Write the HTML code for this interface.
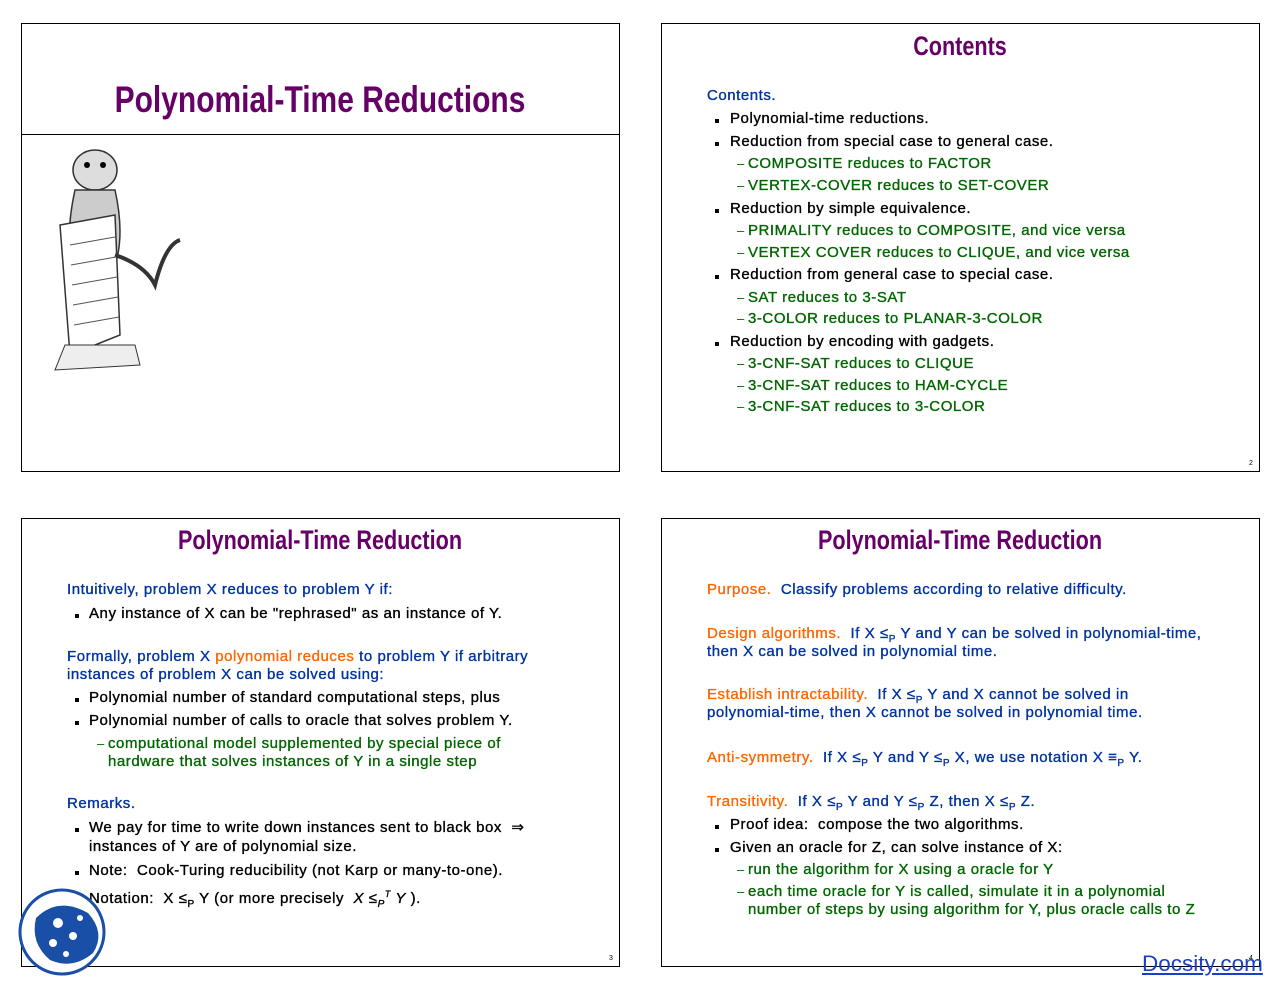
<!DOCTYPE html>
<html><head><meta charset="utf-8"><style>
body{margin:0;width:1280px;height:989px;background:#fff;position:relative;overflow:hidden;font-family:"Liberation Sans",Arial,sans-serif;}
.box{position:absolute;border:1px solid #000;box-sizing:border-box;}
.t{position:absolute;white-space:nowrap;font-size:15px;-webkit-text-stroke:0.35px currentColor;line-height:18px;letter-spacing:0.55px;}
.b{color:#0033a0}.k{color:#000}.g{color:#006600}.o{color:#ff6600}
.ttl{position:absolute;color:#660066;font-weight:bold;white-space:nowrap;transform-origin:center;text-align:center;}
.bul{position:absolute;width:4px;height:4px;background:#000;}
.dash{position:absolute;font-size:13px;color:#006600;}
sub{font-size:10px;}
.pn{position:absolute;font-size:7px;}
</style></head><body>
<div class="box" style="left:21px;top:23px;width:599px;height:449px"></div>
<div style="position:absolute;left:21px;top:134px;width:599px;height:1px;background:#000"></div>
<div class="box" style="left:661px;top:23px;width:599px;height:449px"></div>
<div class="box" style="left:21px;top:518px;width:599px;height:449px"></div>
<div class="box" style="left:661px;top:518px;width:599px;height:449px"></div>

<!-- slide 1 -->
<div class="ttl" style="left:20px;width:600px;top:79px;font-size:37px;transform:scaleX(0.81)">Polynomial-Time Reductions</div>
<svg style="position:absolute;left:45px;top:145px" width="140" height="235">
<ellipse cx="50" cy="25" rx="22" ry="20" fill="#ddd" stroke="#333" stroke-width="1.5"/>
<path d="M30 45 Q20 90 28 120 L70 120 Q80 90 70 45 Z" fill="#ccc" stroke="#333" stroke-width="1.5"/>
<path d="M15 80 L70 70 L75 190 L25 210 Z" fill="#fff" stroke="#333" stroke-width="1.5"/>
<path d="M20 200 L90 200 L95 220 L10 225 Z" fill="#eee" stroke="#333"/>
<path d="M70 110 Q100 120 110 140 Q120 100 135 95" fill="none" stroke="#333" stroke-width="4"/>
<g stroke="#555"><line x1="25" y1="100" x2="70" y2="92"/><line x1="26" y1="120" x2="71" y2="112"/><line x1="27" y1="140" x2="72" y2="132"/><line x1="28" y1="160" x2="73" y2="152"/><line x1="29" y1="180" x2="74" y2="172"/></g>
<circle cx="42" cy="20" r="3"/><circle cx="58" cy="20" r="3"/>
</svg>

<!-- slide 2 -->
<div class="ttl" style="left:660px;width:600px;top:31px;font-size:27px;transform:scaleX(0.8)">Contents</div>
<div class="t b" style="left:707px;top:87px">Contents.</div>
<div class="bul" style="left:715px;top:119px"></div><div class="t k" style="left:730px;top:110px">Polynomial-time reductions.</div>
<div class="bul" style="left:715px;top:142px"></div><div class="t k" style="left:730px;top:133px">Reduction from special case to general case.</div>
<div class="dash" style="left:737px;top:156px">–</div><div class="t g" style="left:748px;top:155px">COMPOSITE reduces to FACTOR</div>
<div class="dash" style="left:737px;top:178px">–</div><div class="t g" style="left:748px;top:177px">VERTEX-COVER reduces to SET-COVER</div>
<div class="bul" style="left:715px;top:209px"></div><div class="t k" style="left:730px;top:200px">Reduction by simple equivalence.</div>
<div class="dash" style="left:737px;top:223px">–</div><div class="t g" style="left:748px;top:222px">PRIMALITY reduces to COMPOSITE, and vice versa</div>
<div class="dash" style="left:737px;top:245px">–</div><div class="t g" style="left:748px;top:244px">VERTEX COVER reduces to CLIQUE, and vice versa</div>
<div class="bul" style="left:715px;top:275px"></div><div class="t k" style="left:730px;top:266px">Reduction from general case to special case.</div>
<div class="dash" style="left:737px;top:290px">–</div><div class="t g" style="left:748px;top:289px">SAT reduces to 3-SAT</div>
<div class="dash" style="left:737px;top:311px">–</div><div class="t g" style="left:748px;top:310px">3-COLOR reduces to PLANAR-3-COLOR</div>
<div class="bul" style="left:715px;top:342px"></div><div class="t k" style="left:730px;top:333px">Reduction by encoding with gadgets.</div>
<div class="dash" style="left:737px;top:356px">–</div><div class="t g" style="left:748px;top:355px">3-CNF-SAT reduces to CLIQUE</div>
<div class="dash" style="left:737px;top:378px">–</div><div class="t g" style="left:748px;top:377px">3-CNF-SAT reduces to HAM-CYCLE</div>
<div class="dash" style="left:737px;top:399px">–</div><div class="t g" style="left:748px;top:398px">3-CNF-SAT reduces to 3-COLOR</div>
<div class="pn" style="left:1249px;top:460px">2</div>

<!-- slide 3 -->
<div class="ttl" style="left:20px;width:600px;top:525px;font-size:27px;transform:scaleX(0.8)">Polynomial-Time Reduction</div>
<div class="t b" style="left:67px;top:581px">Intuitively, problem X reduces to problem Y if:</div>
<div class="bul" style="left:75px;top:614px"></div><div class="t k" style="left:89px;top:605px">Any instance of X can be "rephrased" as an instance of Y.</div>
<div class="t b" style="left:67px;top:648px">Formally, problem X <span class="o">polynomial reduces</span> to problem Y if arbitrary</div>
<div class="t b" style="left:67px;top:666px">instances of problem X can be solved using:</div>
<div class="bul" style="left:75px;top:698px"></div><div class="t k" style="left:89px;top:689px">Polynomial number of standard computational steps, plus</div>
<div class="bul" style="left:75px;top:721px"></div><div class="t k" style="left:89px;top:712px">Polynomial number of calls to oracle that solves problem Y.</div>
<div class="dash" style="left:97px;top:736px">–</div><div class="t g" style="left:108px;top:735px">computational model supplemented by special piece of</div>
<div class="t g" style="left:108px;top:753px">hardware that solves instances of Y in a single step</div>
<div class="t b" style="left:67px;top:795px">Remarks.</div>
<div class="bul" style="left:75px;top:828px"></div><div class="t k" style="left:89px;top:819px">We pay for time to write down instances sent to black box &nbsp;⇒</div>
<div class="t k" style="left:89px;top:838px">instances of Y are of polynomial size.</div>
<div class="bul" style="left:75px;top:871px"></div><div class="t k" style="left:89px;top:862px">Note: &nbsp;Cook-Turing reducibility (not Karp or many-to-one).</div>
<div class="bul" style="left:75px;top:894px"></div><div class="t k" style="left:89px;top:885px">Notation: &nbsp;X ≤<sub>P</sub> Y (or more precisely &nbsp;<i>X ≤<sub>P</sub><sup style="font-size:9px">T</sup> Y</i> ).</div>
<svg style="position:absolute;left:18px;top:888px" width="90" height="90">
<circle cx="44" cy="44" r="42" fill="#fff" stroke="#1a4fa8" stroke-width="3"/>
<path d="M18 30 Q40 8 70 25 Q88 45 75 65 Q55 82 32 72 Q12 55 18 30Z" fill="#1a4fa8"/>
<circle cx="40" cy="35" r="5" fill="#fff"/><circle cx="55" cy="48" r="4" fill="#fff"/><circle cx="35" cy="55" r="4" fill="#fff"/><circle cx="62" cy="30" r="3" fill="#fff"/><circle cx="48" cy="66" r="3" fill="#fff"/>
</svg>
<div class="pn" style="left:609px;top:955px">3</div>

<!-- slide 4 -->
<div class="ttl" style="left:660px;width:600px;top:525px;font-size:27px;transform:scaleX(0.8)">Polynomial-Time Reduction</div>
<div class="t b" style="left:707px;top:581px"><span class="o">Purpose.</span>&nbsp; Classify problems according to relative difficulty.</div>
<div class="t b" style="left:707px;top:625px"><span class="o">Design algorithms.</span>&nbsp; If X ≤<sub>P</sub> Y and Y can be solved in polynomial-time,</div>
<div class="t b" style="left:707px;top:643px">then X can be solved in polynomial time.</div>
<div class="t b" style="left:707px;top:686px"><span class="o">Establish intractability.</span>&nbsp; If X ≤<sub>P</sub> Y and X cannot be solved in</div>
<div class="t b" style="left:707px;top:704px">polynomial-time, then X cannot be solved in polynomial time.</div>
<div class="t b" style="left:707px;top:749px"><span class="o">Anti-symmetry.</span>&nbsp; If X ≤<sub>P</sub> Y and Y ≤<sub>P</sub> X, we use notation X ≡<sub>P</sub> Y.</div>
<div class="t b" style="left:707px;top:793px"><span class="o">Transitivity.</span>&nbsp; If X ≤<sub>P</sub> Y and Y ≤<sub>P</sub> Z, then X ≤<sub>P</sub> Z.</div>
<div class="bul" style="left:715px;top:825px"></div><div class="t k" style="left:730px;top:816px">Proof idea: &nbsp;compose the two algorithms.</div>
<div class="bul" style="left:715px;top:848px"></div><div class="t k" style="left:730px;top:839px">Given an oracle for Z, can solve instance of X:</div>
<div class="dash" style="left:737px;top:862px">–</div><div class="t g" style="left:748px;top:861px">run the algorithm for X using a oracle for Y</div>
<div class="dash" style="left:737px;top:884px">–</div><div class="t g" style="left:748px;top:883px">each time oracle for Y is called, simulate it in a polynomial</div>
<div class="t g" style="left:748px;top:901px">number of steps by using algorithm for Y, plus oracle calls to Z</div>
<div class="pn" style="left:1249px;top:955px">4</div>
<div style="position:absolute;left:1142px;top:951px;font-size:22.5px;color:#1a3fc8;text-decoration:underline;white-space:nowrap">Docsity.com</div>
</body></html>
